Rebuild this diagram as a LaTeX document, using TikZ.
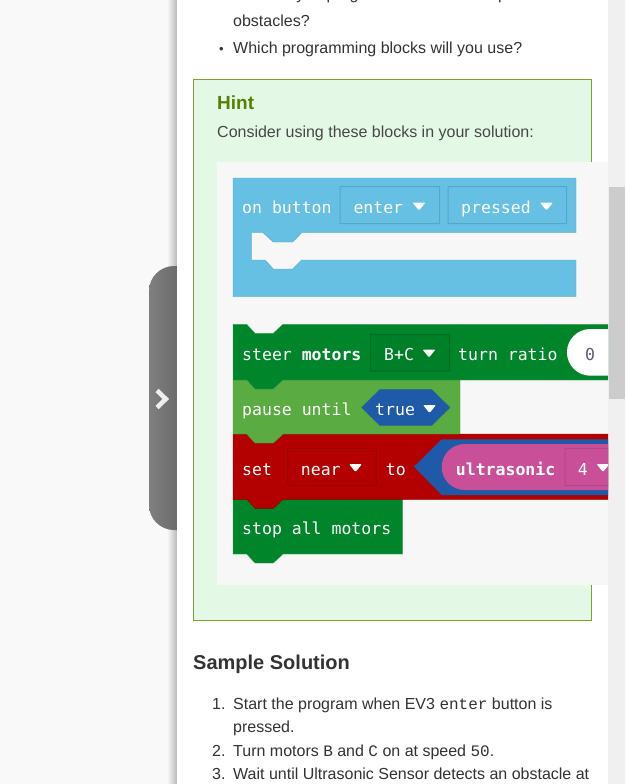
\documentclass[tikz,border=0pt]{standalone}
\usepackage{fontspec}
\setmainfont{Liberation Sans}
\setmonofont{Liberation Mono}
\newfontfamily\blockfont{DejaVu Sans Mono}
\usepackage{tikz}

\definecolor{pagebg}{HTML}{F9F9F9}
\definecolor{bodyink}{HTML}{333333}
\definecolor{hintfill}{HTML}{E3F8E5}
\definecolor{hintline}{HTML}{7F9F2F}
\definecolor{hintink}{HTML}{5A7F00}
\definecolor{panelfill}{HTML}{F7F7F7}
\definecolor{eventfill}{HTML}{66C0E3}
\definecolor{eventline}{HTML}{58A6C6}
\definecolor{steerfill}{HTML}{00852B}
\definecolor{steerdark}{HTML}{007F29}
\definecolor{steeredge}{HTML}{006F23}
\definecolor{steerline}{HTML}{3F9C5E}
\definecolor{pausefill}{HTML}{5AAB41}
\definecolor{pauseline}{HTML}{4F9A3A}
\definecolor{logicfill}{HTML}{1E5AA8}
\definecolor{logicline}{HTML}{2F6A8A}
\definecolor{varfill}{HTML}{B30000}
\definecolor{vardark}{HTML}{9A0000}
\definecolor{sensorfill}{HTML}{C94F98}
\definecolor{sensordark}{HTML}{B74489}
\definecolor{numberink}{HTML}{575E75}

% one stacking block: right edge, top, bottom
\newcommand{\blockshape}[3]{(233,#2) -- (246.7,#2) -- (255,{#2+9}) -- (273.3,{#2+9}) -- (283,#2) -- (#1,#2)
  -- (#1,#3) -- (283,#3) -- (273.3,{#3+9}) -- (255,{#3+9}) -- (246.7,#3) -- (233,#3) -- cycle}
% little white drop-down mark: centre x, top y
\newcommand{\dropmark}[2]{\fill[white, rounded corners=1pt] ({#1-6.5},#2) -- ({#1+6.5},#2) -- (#1,{#2+8}) -- cycle;}

\tikzset{
  bodytext/.style={anchor=base west, inner sep=0pt, text=bodyink, font=\fontsize{16}{19}\selectfont},
  blocktext/.style={anchor=base west, inner sep=0pt, text=white, font=\fontsize{16.5}{20}\blockfont},
  ddfield/.style={line width=1pt, rounded corners=0.5pt},
}

\begin{document}
\begin{tikzpicture}[x=1pt, y=-1pt]
\useasboundingbox (0,0) rectangle (625,784);

% page and side tab
\fill[pagebg] (0,0) rectangle (625,784);
\shade[left color=pagebg, right color=black!28] (167,0) rectangle (177,784);
\shade[left color=black!50, middle color=black!50, right color=black!58] (177,266) -- (174,266) arc[start angle=-90, end angle=-180, radius=25] -- (149,505) arc[start angle=180, end angle=90, radius=25] -- (177,530) -- cycle;
\fill[white] (177,0) rectangle (608,784);
\fill[black!6] (608,0) rectangle (625,784);
\fill[black!20] (609,187) rectangle (625,399);
\draw[white!93!black, line width=4.6pt] (157,390.5) -- (165.8,399) -- (157,407.5);

% text above the hint
\node (lineone) [bodytext] at (233,0) {How will you program the robot to respond to};
\node (linetwo) [bodytext] at (233,27) {obstacles?};
\node (bullet) [bodytext, font=\fontsize{13}{19}\selectfont] at (219,54) {•};
\node (question) [bodytext] at (233,54) {Which programming blocks will you use?};

% hint box
\draw[hintline, fill=hintfill] (193.5,79) rectangle (591.5,620.5);
\node (hint) [anchor=base west, inner sep=0pt, text=hintink, font=\fontsize{19}{22}\selectfont\bfseries] at (217,109) {Hint};
\node (consider) [bodytext, text=black!72] at (217,137) {Consider using these blocks in your solution:};
\fill[panelfill] (217,162) rectangle (608,585);

\begin{scope}
\clip (217,162) rectangle (608,585);

% on button block
\draw[eventline, fill=eventfill] (233,178) -- (576,178) -- (576,232.7) -- (301.7,232.7) -- (292.7,242) -- (273.3,242) -- (263,232.7) -- (251.7,232.7)
  -- (251.7,260) -- (265,260) -- (273.3,269) -- (292.7,269) -- (301.7,260) -- (576,260) -- (576,296.7) -- (233,296.7) -- cycle;
\draw[eventline, ddfield] (340,186.7) rectangle (439.7,223.7);
\draw[eventline, ddfield] (448,186.7) rectangle (566.7,223.7);
\node (onbutton) [blocktext] at (242,213) {on button};
\node (enter) [blocktext] at (353.3,213) {enter};
\dropmark{419}{202.5}
\node (pressed) [blocktext] at (461,213) {pressed};
\dropmark{546.5}{202.5}

% stack, lowest block first so each tab lies on the next block
\draw[steerline, fill=steerfill] \blockshape{402.7}{498.5}{554};
\draw[black!25!varfill, fill=varfill] \blockshape{640}{434}{499.3};
\draw[pauseline, fill=pausefill] \blockshape{460}{380}{434};
\draw[steerline, fill=steerfill] \blockshape{640}{324.3}{380};

% steer motors
\node (steer) [blocktext] at (242,360) {steer \textbf{motors}};
\draw[steeredge, fill=steerdark, ddfield] (370.3,334.3) rectangle (449.7,371);
\node (bandc) [blocktext] at (384,360) {B+C};
\dropmark{429}{349.5}
\node (turn) [blocktext] at (458,360) {turn ratio};
\fill[white] (640,329) -- (590.3,329) arc[start angle=-90, end angle=-270, radius=23.35] -- (640,375.7) -- cycle;
\node (zero) [blocktext, text=numberink] at (585,360) {0};

% pause until
\node (pause) [blocktext] at (242,415) {pause until};
\draw[logicline, fill=logicfill] (361.7,407.5) -- (380,389.3) -- (431.7,389.3) -- (450,407.5) -- (431.7,425.7) -- (380,425.7) -- cycle;
\node (true) [blocktext] at (375,415) {true};
\dropmark{429.5}{405}

% set near
\node (set) [blocktext] at (242,475) {set};
\draw[vardark, fill=varfill, ddfield] (287.7,448.3) rectangle (376.3,485.7);
\node (near) [blocktext] at (300.7,475) {near};
\dropmark{355.5}{464}
\node (to) [blocktext] at (385.7,475) {to};
\fill[logicfill] (414,466.7) -- (441.7,439.3) -- (640,439.3) -- (640,495) -- (441.7,495) -- cycle;
\fill[sensorfill] (640,444) -- (464.7,444) arc[start angle=-90, end angle=-270, radius=23] -- (640,490) -- cycle;
\node (ultrasonic) [blocktext, font=\fontsize{16.5}{20}\blockfont\bfseries] at (455.7,475) {ultrasonic};
\draw[sensordark, fill=sensorfill, ddfield] (565,448.3) rectangle (640,485.7);
\node (four) [blocktext] at (577.7,475) {4};
\dropmark{603}{464}

% stop
\node (stop) [blocktext] at (242,534) {stop all motors};
\end{scope}

% sample solution
\node (sample) [bodytext, font=\fontsize{20}{24}\selectfont\bfseries] at (193,669.5) {Sample Solution};
\node (numone) [bodytext] at (212,709) {1.};
\node (stepone) [bodytext] at (233,709) {Start the program when EV3 \texttt{enter} button is};
\node (steponeb) [bodytext] at (233,732.5) {pressed.};
\node (numtwo) [bodytext] at (212,756) {2.};
\node (steptwo) [bodytext] at (233,756) {Turn motors \texttt{B} and \texttt{C} on at speed \texttt{50}.};
\node (numthree) [bodytext] at (212,779) {3.};
\node (stepthree) [bodytext] at (233,779) {Wait until Ultrasonic Sensor detects an obstacle at};
\end{tikzpicture}
\end{document}
